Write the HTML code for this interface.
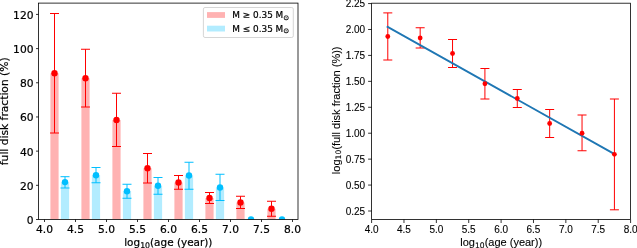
<!DOCTYPE html>
<html><head><meta charset="utf-8"><title>full disk fraction</title>
<style>html,body{margin:0;padding:0;background:#fff;}svg{display:block;}text{fill:#000;stroke:#000;stroke-width:0.2px;}.r text{stroke-width:0.1px;}</style></head><body>
<svg width="637" height="248" viewBox="0 0 637 248">
<rect x="0" y="0" width="637" height="248" fill="#fff"/>
<clipPath id="cl"><rect x="38.5" y="3.1" width="259.5" height="216.4"/></clipPath>
<g clip-path="url(#cl)">
<rect x="50.40" y="73.25" width="8.20" height="146.25" fill="#ff0000" fill-opacity="0.3"/>
<rect x="81.40" y="78.25" width="8.20" height="141.25" fill="#ff0000" fill-opacity="0.3"/>
<rect x="112.40" y="120.00" width="8.20" height="99.50" fill="#ff0000" fill-opacity="0.3"/>
<rect x="143.40" y="168.25" width="8.20" height="51.25" fill="#ff0000" fill-opacity="0.3"/>
<rect x="174.40" y="182.50" width="8.20" height="37.00" fill="#ff0000" fill-opacity="0.3"/>
<rect x="205.40" y="198.00" width="8.20" height="21.50" fill="#ff0000" fill-opacity="0.3"/>
<rect x="236.40" y="202.50" width="8.20" height="17.00" fill="#ff0000" fill-opacity="0.3"/>
<rect x="267.40" y="208.75" width="8.20" height="10.75" fill="#ff0000" fill-opacity="0.3"/>
<rect x="60.90" y="182.10" width="8.20" height="37.40" fill="#00bfff" fill-opacity="0.3"/>
<rect x="91.90" y="175.25" width="8.20" height="44.25" fill="#00bfff" fill-opacity="0.3"/>
<rect x="122.90" y="191.25" width="8.20" height="28.25" fill="#00bfff" fill-opacity="0.3"/>
<rect x="153.90" y="185.75" width="8.20" height="33.75" fill="#00bfff" fill-opacity="0.3"/>
<rect x="184.90" y="175.50" width="8.20" height="44.00" fill="#00bfff" fill-opacity="0.3"/>
<rect x="215.90" y="187.50" width="8.20" height="32.00" fill="#00bfff" fill-opacity="0.3"/>
<line x1="54.50" y1="13.50" x2="54.50" y2="133.00" stroke="#ff0000" stroke-width="1.0" />
<line x1="50.00" y1="13.50" x2="59.00" y2="13.50" stroke="#ff0000" stroke-width="1.0" />
<line x1="50.00" y1="133.00" x2="59.00" y2="133.00" stroke="#ff0000" stroke-width="1.0" />
<circle cx="54.50" cy="73.25" r="3.2" fill="#ff0000"/>
<line x1="85.50" y1="49.25" x2="85.50" y2="107.00" stroke="#ff0000" stroke-width="1.0" />
<line x1="81.00" y1="49.25" x2="90.00" y2="49.25" stroke="#ff0000" stroke-width="1.0" />
<line x1="81.00" y1="107.00" x2="90.00" y2="107.00" stroke="#ff0000" stroke-width="1.0" />
<circle cx="85.50" cy="78.25" r="3.2" fill="#ff0000"/>
<line x1="116.50" y1="93.25" x2="116.50" y2="146.50" stroke="#ff0000" stroke-width="1.0" />
<line x1="112.00" y1="93.25" x2="121.00" y2="93.25" stroke="#ff0000" stroke-width="1.0" />
<line x1="112.00" y1="146.50" x2="121.00" y2="146.50" stroke="#ff0000" stroke-width="1.0" />
<circle cx="116.50" cy="120.00" r="3.2" fill="#ff0000"/>
<line x1="147.50" y1="153.50" x2="147.50" y2="183.00" stroke="#ff0000" stroke-width="1.0" />
<line x1="143.00" y1="153.50" x2="152.00" y2="153.50" stroke="#ff0000" stroke-width="1.0" />
<line x1="143.00" y1="183.00" x2="152.00" y2="183.00" stroke="#ff0000" stroke-width="1.0" />
<circle cx="147.50" cy="168.25" r="3.2" fill="#ff0000"/>
<line x1="178.50" y1="175.50" x2="178.50" y2="189.25" stroke="#ff0000" stroke-width="1.0" />
<line x1="174.00" y1="175.50" x2="183.00" y2="175.50" stroke="#ff0000" stroke-width="1.0" />
<line x1="174.00" y1="189.25" x2="183.00" y2="189.25" stroke="#ff0000" stroke-width="1.0" />
<circle cx="178.50" cy="182.50" r="3.2" fill="#ff0000"/>
<line x1="209.50" y1="192.50" x2="209.50" y2="203.50" stroke="#ff0000" stroke-width="1.0" />
<line x1="205.00" y1="192.50" x2="214.00" y2="192.50" stroke="#ff0000" stroke-width="1.0" />
<line x1="205.00" y1="203.50" x2="214.00" y2="203.50" stroke="#ff0000" stroke-width="1.0" />
<circle cx="209.50" cy="198.00" r="3.2" fill="#ff0000"/>
<line x1="240.50" y1="196.25" x2="240.50" y2="208.50" stroke="#ff0000" stroke-width="1.0" />
<line x1="236.00" y1="196.25" x2="245.00" y2="196.25" stroke="#ff0000" stroke-width="1.0" />
<line x1="236.00" y1="208.50" x2="245.00" y2="208.50" stroke="#ff0000" stroke-width="1.0" />
<circle cx="240.50" cy="202.50" r="3.2" fill="#ff0000"/>
<line x1="271.50" y1="201.25" x2="271.50" y2="216.25" stroke="#ff0000" stroke-width="1.0" />
<line x1="267.00" y1="201.25" x2="276.00" y2="201.25" stroke="#ff0000" stroke-width="1.0" />
<line x1="267.00" y1="216.25" x2="276.00" y2="216.25" stroke="#ff0000" stroke-width="1.0" />
<circle cx="271.50" cy="208.75" r="3.2" fill="#ff0000"/>
<line x1="65.00" y1="176.70" x2="65.00" y2="188.00" stroke="#00bfff" stroke-width="1.0" />
<line x1="60.50" y1="176.70" x2="69.50" y2="176.70" stroke="#00bfff" stroke-width="1.0" />
<line x1="60.50" y1="188.00" x2="69.50" y2="188.00" stroke="#00bfff" stroke-width="1.0" />
<circle cx="65.00" cy="182.10" r="3.2" fill="#00bfff"/>
<line x1="96.00" y1="167.50" x2="96.00" y2="182.75" stroke="#00bfff" stroke-width="1.0" />
<line x1="91.50" y1="167.50" x2="100.50" y2="167.50" stroke="#00bfff" stroke-width="1.0" />
<line x1="91.50" y1="182.75" x2="100.50" y2="182.75" stroke="#00bfff" stroke-width="1.0" />
<circle cx="96.00" cy="175.25" r="3.2" fill="#00bfff"/>
<line x1="127.00" y1="184.25" x2="127.00" y2="198.25" stroke="#00bfff" stroke-width="1.0" />
<line x1="122.50" y1="184.25" x2="131.50" y2="184.25" stroke="#00bfff" stroke-width="1.0" />
<line x1="122.50" y1="198.25" x2="131.50" y2="198.25" stroke="#00bfff" stroke-width="1.0" />
<circle cx="127.00" cy="191.25" r="3.2" fill="#00bfff"/>
<line x1="158.00" y1="177.50" x2="158.00" y2="194.25" stroke="#00bfff" stroke-width="1.0" />
<line x1="153.50" y1="177.50" x2="162.50" y2="177.50" stroke="#00bfff" stroke-width="1.0" />
<line x1="153.50" y1="194.25" x2="162.50" y2="194.25" stroke="#00bfff" stroke-width="1.0" />
<circle cx="158.00" cy="185.75" r="3.2" fill="#00bfff"/>
<line x1="189.00" y1="162.25" x2="189.00" y2="189.25" stroke="#00bfff" stroke-width="1.0" />
<line x1="184.50" y1="162.25" x2="193.50" y2="162.25" stroke="#00bfff" stroke-width="1.0" />
<line x1="184.50" y1="189.25" x2="193.50" y2="189.25" stroke="#00bfff" stroke-width="1.0" />
<circle cx="189.00" cy="175.50" r="3.2" fill="#00bfff"/>
<line x1="220.00" y1="174.25" x2="220.00" y2="200.50" stroke="#00bfff" stroke-width="1.0" />
<line x1="215.50" y1="174.25" x2="224.50" y2="174.25" stroke="#00bfff" stroke-width="1.0" />
<line x1="215.50" y1="200.50" x2="224.50" y2="200.50" stroke="#00bfff" stroke-width="1.0" />
<circle cx="220.00" cy="187.50" r="3.2" fill="#00bfff"/>
<circle cx="251.00" cy="219.50" r="3.2" fill="#00bfff"/>
<circle cx="282.00" cy="219.50" r="3.2" fill="#00bfff"/>
</g>
<rect x="38.5" y="3.1" width="259.5" height="216.4" fill="none" stroke="#000" stroke-width="0.8"/>
<line x1="44.50" y1="219.50" x2="44.50" y2="222.00" stroke="#000" stroke-width="0.8" />
<text x="44.50" y="232.70" font-family="DejaVu Sans, Liberation Sans, sans-serif" font-size="10.7" text-anchor="middle" >4.0</text>
<line x1="75.50" y1="219.50" x2="75.50" y2="222.00" stroke="#000" stroke-width="0.8" />
<text x="75.50" y="232.70" font-family="DejaVu Sans, Liberation Sans, sans-serif" font-size="10.7" text-anchor="middle" >4.5</text>
<line x1="106.50" y1="219.50" x2="106.50" y2="222.00" stroke="#000" stroke-width="0.8" />
<text x="106.50" y="232.70" font-family="DejaVu Sans, Liberation Sans, sans-serif" font-size="10.7" text-anchor="middle" >5.0</text>
<line x1="137.50" y1="219.50" x2="137.50" y2="222.00" stroke="#000" stroke-width="0.8" />
<text x="137.50" y="232.70" font-family="DejaVu Sans, Liberation Sans, sans-serif" font-size="10.7" text-anchor="middle" >5.5</text>
<line x1="168.50" y1="219.50" x2="168.50" y2="222.00" stroke="#000" stroke-width="0.8" />
<text x="168.50" y="232.70" font-family="DejaVu Sans, Liberation Sans, sans-serif" font-size="10.7" text-anchor="middle" >6.0</text>
<line x1="199.50" y1="219.50" x2="199.50" y2="222.00" stroke="#000" stroke-width="0.8" />
<text x="199.50" y="232.70" font-family="DejaVu Sans, Liberation Sans, sans-serif" font-size="10.7" text-anchor="middle" >6.5</text>
<line x1="230.50" y1="219.50" x2="230.50" y2="222.00" stroke="#000" stroke-width="0.8" />
<text x="230.50" y="232.70" font-family="DejaVu Sans, Liberation Sans, sans-serif" font-size="10.7" text-anchor="middle" >7.0</text>
<line x1="261.50" y1="219.50" x2="261.50" y2="222.00" stroke="#000" stroke-width="0.8" />
<text x="261.50" y="232.70" font-family="DejaVu Sans, Liberation Sans, sans-serif" font-size="10.7" text-anchor="middle" >7.5</text>
<line x1="292.50" y1="219.50" x2="292.50" y2="222.00" stroke="#000" stroke-width="0.8" />
<text x="292.50" y="232.70" font-family="DejaVu Sans, Liberation Sans, sans-serif" font-size="10.7" text-anchor="middle" >8.0</text>
<line x1="36.00" y1="219.50" x2="38.50" y2="219.50" stroke="#000" stroke-width="0.8" />
<text x="33.50" y="224.00" font-family="DejaVu Sans, Liberation Sans, sans-serif" font-size="10.7" text-anchor="end" >0</text>
<line x1="36.00" y1="185.32" x2="38.50" y2="185.32" stroke="#000" stroke-width="0.8" />
<text x="33.50" y="189.82" font-family="DejaVu Sans, Liberation Sans, sans-serif" font-size="10.7" text-anchor="end" >20</text>
<line x1="36.00" y1="151.14" x2="38.50" y2="151.14" stroke="#000" stroke-width="0.8" />
<text x="33.50" y="155.64" font-family="DejaVu Sans, Liberation Sans, sans-serif" font-size="10.7" text-anchor="end" >40</text>
<line x1="36.00" y1="116.96" x2="38.50" y2="116.96" stroke="#000" stroke-width="0.8" />
<text x="33.50" y="121.46" font-family="DejaVu Sans, Liberation Sans, sans-serif" font-size="10.7" text-anchor="end" >60</text>
<line x1="36.00" y1="82.78" x2="38.50" y2="82.78" stroke="#000" stroke-width="0.8" />
<text x="33.50" y="87.28" font-family="DejaVu Sans, Liberation Sans, sans-serif" font-size="10.7" text-anchor="end" >80</text>
<line x1="36.00" y1="48.60" x2="38.50" y2="48.60" stroke="#000" stroke-width="0.8" />
<text x="33.50" y="53.10" font-family="DejaVu Sans, Liberation Sans, sans-serif" font-size="10.7" text-anchor="end" >100</text>
<line x1="36.00" y1="14.42" x2="38.50" y2="14.42" stroke="#000" stroke-width="0.8" />
<text x="33.50" y="18.92" font-family="DejaVu Sans, Liberation Sans, sans-serif" font-size="10.7" text-anchor="end" >120</text>
<text x="168.30" y="245.90" font-family="DejaVu Sans, Liberation Sans, sans-serif" font-size="10.45" text-anchor="middle" >log<tspan font-size="7.8" dy="1.6">10</tspan><tspan dy="-1.6">(age (year))</tspan></text>
<text transform="translate(8.30,111.30) rotate(-90)" font-family="DejaVu Sans, Liberation Sans, sans-serif" font-size="10.7" text-anchor="middle">full disk fraction (%)</text>
<rect x="203.4" y="7.5" width="89.9" height="30" rx="1.6" ry="1.6" fill="#fff" fill-opacity="0.8" stroke="#cccccc" stroke-width="0.8"/>
<rect x="207" y="12.1" width="18" height="5.8" fill="#ff0000" fill-opacity="0.3"/>
<rect x="207" y="25.7" width="18" height="5.8" fill="#00bfff" fill-opacity="0.3"/>
<text x="232.30" y="18.20" font-family="DejaVu Sans, Liberation Sans, sans-serif" font-size="8.9" text-anchor="start" >M ≥ 0.35 M<tspan font-size="7" dy="1.6">⊙</tspan></text>
<text x="232.30" y="31.80" font-family="DejaVu Sans, Liberation Sans, sans-serif" font-size="8.9" text-anchor="start" >M ≤ 0.35 M<tspan font-size="7" dy="1.6">⊙</tspan></text>
<g class="r">
<clipPath id="cr"><rect x="371.6" y="3.2" width="258.9" height="216.3"/></clipPath>
<g clip-path="url(#cr)">
<line x1="387.79" y1="12.90" x2="387.79" y2="60.00" stroke="#ff0000" stroke-width="1.0" />
<line x1="383.29" y1="12.90" x2="392.29" y2="12.90" stroke="#ff0000" stroke-width="1.0" />
<line x1="383.29" y1="60.00" x2="392.29" y2="60.00" stroke="#ff0000" stroke-width="1.0" />
<line x1="420.17" y1="27.75" x2="420.17" y2="48.00" stroke="#ff0000" stroke-width="1.0" />
<line x1="415.67" y1="27.75" x2="424.67" y2="27.75" stroke="#ff0000" stroke-width="1.0" />
<line x1="415.67" y1="48.00" x2="424.67" y2="48.00" stroke="#ff0000" stroke-width="1.0" />
<line x1="452.54" y1="39.50" x2="452.54" y2="67.50" stroke="#ff0000" stroke-width="1.0" />
<line x1="448.04" y1="39.50" x2="457.04" y2="39.50" stroke="#ff0000" stroke-width="1.0" />
<line x1="448.04" y1="67.50" x2="457.04" y2="67.50" stroke="#ff0000" stroke-width="1.0" />
<line x1="484.92" y1="68.50" x2="484.92" y2="99.00" stroke="#ff0000" stroke-width="1.0" />
<line x1="480.42" y1="68.50" x2="489.42" y2="68.50" stroke="#ff0000" stroke-width="1.0" />
<line x1="480.42" y1="99.00" x2="489.42" y2="99.00" stroke="#ff0000" stroke-width="1.0" />
<line x1="517.29" y1="89.50" x2="517.29" y2="107.50" stroke="#ff0000" stroke-width="1.0" />
<line x1="512.79" y1="89.50" x2="521.79" y2="89.50" stroke="#ff0000" stroke-width="1.0" />
<line x1="512.79" y1="107.50" x2="521.79" y2="107.50" stroke="#ff0000" stroke-width="1.0" />
<line x1="549.66" y1="109.50" x2="549.66" y2="137.50" stroke="#ff0000" stroke-width="1.0" />
<line x1="545.16" y1="109.50" x2="554.16" y2="109.50" stroke="#ff0000" stroke-width="1.0" />
<line x1="545.16" y1="137.50" x2="554.16" y2="137.50" stroke="#ff0000" stroke-width="1.0" />
<line x1="582.04" y1="115.00" x2="582.04" y2="150.75" stroke="#ff0000" stroke-width="1.0" />
<line x1="577.54" y1="115.00" x2="586.54" y2="115.00" stroke="#ff0000" stroke-width="1.0" />
<line x1="577.54" y1="150.75" x2="586.54" y2="150.75" stroke="#ff0000" stroke-width="1.0" />
<line x1="614.41" y1="99.00" x2="614.41" y2="209.80" stroke="#ff0000" stroke-width="1.0" />
<line x1="609.91" y1="99.00" x2="618.91" y2="99.00" stroke="#ff0000" stroke-width="1.0" />
<line x1="609.91" y1="209.80" x2="618.91" y2="209.80" stroke="#ff0000" stroke-width="1.0" />
<line x1="387.60" y1="26.85" x2="614.60" y2="154.10" stroke="#1f77b4" stroke-width="1.9" stroke-linecap="square"/>
<circle cx="387.79" cy="36.50" r="2.4" fill="#ff0000"/>
<circle cx="420.17" cy="38.00" r="2.4" fill="#ff0000"/>
<circle cx="452.54" cy="53.50" r="2.4" fill="#ff0000"/>
<circle cx="484.92" cy="83.75" r="2.4" fill="#ff0000"/>
<circle cx="517.29" cy="98.50" r="2.4" fill="#ff0000"/>
<circle cx="549.66" cy="123.50" r="2.4" fill="#ff0000"/>
<circle cx="582.04" cy="133.25" r="2.4" fill="#ff0000"/>
<circle cx="614.41" cy="154.30" r="2.4" fill="#ff0000"/>
</g>
<rect x="371.6" y="3.2" width="258.9" height="216.3" fill="none" stroke="#000" stroke-width="0.8"/>
<line x1="371.60" y1="219.50" x2="371.60" y2="223.00" stroke="#000" stroke-width="0.8" />
<text x="371.60" y="233.10" font-family="Liberation Sans, DejaVu Sans, sans-serif" font-size="10" text-anchor="middle" >4.0</text>
<line x1="403.98" y1="219.50" x2="403.98" y2="223.00" stroke="#000" stroke-width="0.8" />
<text x="403.98" y="233.10" font-family="Liberation Sans, DejaVu Sans, sans-serif" font-size="10" text-anchor="middle" >4.5</text>
<line x1="436.35" y1="219.50" x2="436.35" y2="223.00" stroke="#000" stroke-width="0.8" />
<text x="436.35" y="233.10" font-family="Liberation Sans, DejaVu Sans, sans-serif" font-size="10" text-anchor="middle" >5.0</text>
<line x1="468.73" y1="219.50" x2="468.73" y2="223.00" stroke="#000" stroke-width="0.8" />
<text x="468.73" y="233.10" font-family="Liberation Sans, DejaVu Sans, sans-serif" font-size="10" text-anchor="middle" >5.5</text>
<line x1="501.10" y1="219.50" x2="501.10" y2="223.00" stroke="#000" stroke-width="0.8" />
<text x="501.10" y="233.10" font-family="Liberation Sans, DejaVu Sans, sans-serif" font-size="10" text-anchor="middle" >6.0</text>
<line x1="533.48" y1="219.50" x2="533.48" y2="223.00" stroke="#000" stroke-width="0.8" />
<text x="533.48" y="233.10" font-family="Liberation Sans, DejaVu Sans, sans-serif" font-size="10" text-anchor="middle" >6.5</text>
<line x1="565.85" y1="219.50" x2="565.85" y2="223.00" stroke="#000" stroke-width="0.8" />
<text x="565.85" y="233.10" font-family="Liberation Sans, DejaVu Sans, sans-serif" font-size="10" text-anchor="middle" >7.0</text>
<line x1="598.23" y1="219.50" x2="598.23" y2="223.00" stroke="#000" stroke-width="0.8" />
<text x="598.23" y="233.10" font-family="Liberation Sans, DejaVu Sans, sans-serif" font-size="10" text-anchor="middle" >7.5</text>
<line x1="630.60" y1="219.50" x2="630.60" y2="223.00" stroke="#000" stroke-width="0.8" />
<text x="630.60" y="233.10" font-family="Liberation Sans, DejaVu Sans, sans-serif" font-size="10" text-anchor="middle" >8.0</text>
<line x1="368.10" y1="211.00" x2="371.60" y2="211.00" stroke="#000" stroke-width="0.8" />
<text x="365.20" y="214.60" font-family="Liberation Sans, DejaVu Sans, sans-serif" font-size="10" text-anchor="end" >0.25</text>
<line x1="368.10" y1="185.07" x2="371.60" y2="185.07" stroke="#000" stroke-width="0.8" />
<text x="365.20" y="188.67" font-family="Liberation Sans, DejaVu Sans, sans-serif" font-size="10" text-anchor="end" >0.50</text>
<line x1="368.10" y1="159.14" x2="371.60" y2="159.14" stroke="#000" stroke-width="0.8" />
<text x="365.20" y="162.74" font-family="Liberation Sans, DejaVu Sans, sans-serif" font-size="10" text-anchor="end" >0.75</text>
<line x1="368.10" y1="133.21" x2="371.60" y2="133.21" stroke="#000" stroke-width="0.8" />
<text x="365.20" y="136.81" font-family="Liberation Sans, DejaVu Sans, sans-serif" font-size="10" text-anchor="end" >1.00</text>
<line x1="368.10" y1="107.28" x2="371.60" y2="107.28" stroke="#000" stroke-width="0.8" />
<text x="365.20" y="110.88" font-family="Liberation Sans, DejaVu Sans, sans-serif" font-size="10" text-anchor="end" >1.25</text>
<line x1="368.10" y1="81.35" x2="371.60" y2="81.35" stroke="#000" stroke-width="0.8" />
<text x="365.20" y="84.95" font-family="Liberation Sans, DejaVu Sans, sans-serif" font-size="10" text-anchor="end" >1.50</text>
<line x1="368.10" y1="55.42" x2="371.60" y2="55.42" stroke="#000" stroke-width="0.8" />
<text x="365.20" y="59.02" font-family="Liberation Sans, DejaVu Sans, sans-serif" font-size="10" text-anchor="end" >1.75</text>
<line x1="368.10" y1="29.49" x2="371.60" y2="29.49" stroke="#000" stroke-width="0.8" />
<text x="365.20" y="33.09" font-family="Liberation Sans, DejaVu Sans, sans-serif" font-size="10" text-anchor="end" >2.00</text>
<line x1="368.10" y1="3.56" x2="371.60" y2="3.56" stroke="#000" stroke-width="0.8" />
<text x="365.20" y="7.16" font-family="Liberation Sans, DejaVu Sans, sans-serif" font-size="10" text-anchor="end" >2.25</text>
<text x="501.20" y="245.90" font-family="Liberation Sans, DejaVu Sans, sans-serif" font-size="11.0" text-anchor="middle" >log<tspan font-family="DejaVu Sans, Liberation Sans, sans-serif" font-size="7.6" dy="1.6">10</tspan><tspan dy="-1.6">(age (year))</tspan></text>
<text transform="translate(339.50,110.30) rotate(-90)" font-family="Liberation Sans, DejaVu Sans, sans-serif" font-size="11.0" text-anchor="middle">log<tspan font-family="DejaVu Sans, Liberation Sans, sans-serif" font-size="7.6" dy="1.6">10</tspan><tspan dy="-1.6">(full disk fraction (%))</tspan></text>
</g>
</svg></body></html>
